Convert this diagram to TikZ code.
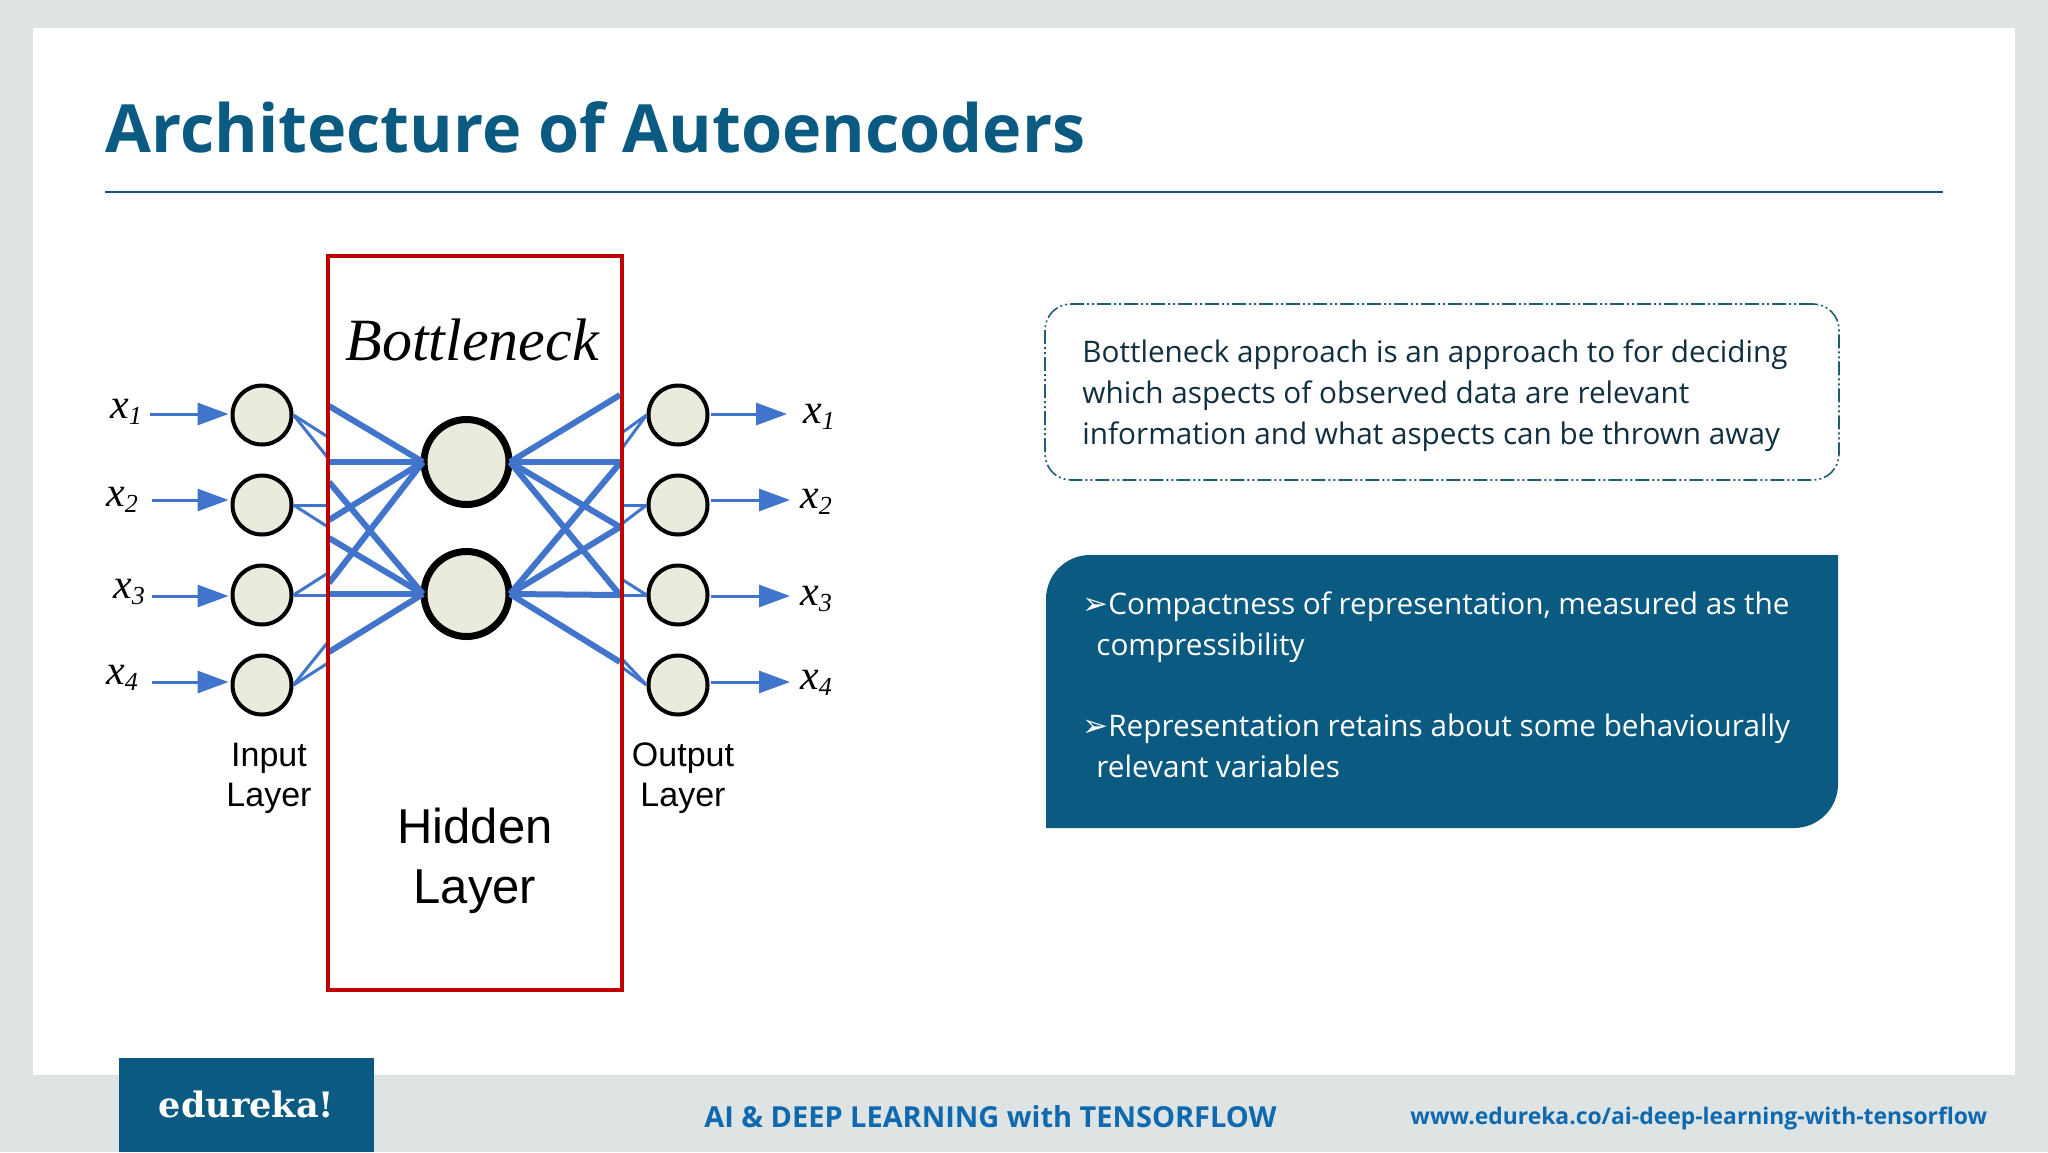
\documentclass[tikz,border=0pt]{standalone}
\usepackage{fontspec}
\usepackage{xcolor}
\usepackage{tikz}
\usetikzlibrary{arrows.meta,positioning}
\setmainfont{Open Sans}
\newfontfamily\arialfont{Liberation Sans}
\newfontfamily\timesfont{Liberation Serif}
\newfontfamily\slabfont{DejaVu Serif}
\newfontfamily\symfont{DejaVu Sans}
\definecolor{navy}{HTML}{0B5A82}
\definecolor{pale}{HTML}{DEE3E3}
\definecolor{wire}{HTML}{4174CB}
\definecolor{cream}{HTML}{EBEBDD}
\definecolor{inktext}{HTML}{10303F}
\definecolor{footblue}{HTML}{0F69AF}
\newcommand{\xlab}[1]{{\timesfont\itshape\fontsize{21}{21}\selectfont x\raisebox{-3pt}{\fontsize{13}{13}\selectfont #1}}}
\newcommand{\pfsize}{\fontsize{14.85}{20.5}\selectfont}

\begin{document}
\begin{tikzpicture}[x=0.5pt,y=-0.5pt,
  unit/.style={circle,draw=black,fill=cream,line width=2pt,minimum size=29.5pt,inner sep=0pt},
  neuron/.style={circle,draw=black,fill=cream,line width=3.5pt,minimum size=42.5pt,inner sep=0pt,outer sep=0.5pt},
  thinwire/.style={wire,line width=1.5pt},
  thickwire/.style={wire,line width=3pt},
  ar/.style={-{Triangle[length=15.5pt,width=11pt]},wire,line width=1.5pt},
  layerlab/.style={font=\arialfont\fontsize{17}{20}\selectfont,align=center},
  para/.style={font=\pfsize,align=left,anchor=north west,inner sep=0pt}]
  \useasboundingbox (0,0) rectangle (2048,1152);
  \fill[pale] (0,0) rectangle (2048,1152);
  \fill[white] (33,28) rectangle (2015,1075);
  % title
  \node[font=\bfseries\fontsize{33.25}{40}\selectfont,color=navy,anchor=base west,inner sep=0pt] (title) at (105,152) {Architecture of Autoencoders};
  \coordinate (ruleL) at (105,192);
  \coordinate (ruleR) at (1943,192);
  \draw[navy,line width=1pt] (ruleL) -- (ruleR);
  % units
  \node[unit] (i1) at (262,415) {};
  \node[unit,below=13.5pt of i1] (i2) {};
  \node[unit,below=13.5pt of i2] (i3) {};
  \node[unit,below=13.5pt of i3] (i4) {};
  \node[unit] (o1) at (678,415) {};
  \node[unit,below=13.5pt of o1] (o2) {};
  \node[unit,below=13.5pt of o2] (o3) {};
  \node[unit,below=13.5pt of o3] (o4) {};
  \node[neuron] (h1) at (466.5,462) {};
  \node[neuron] (h2) at (466.5,594) {};
  % cut ends at the red box
  \foreach \y [count=\k] in {437,458,505,527,573,595,642,663} \coordinate (lo\k) at (328,\y);
  \foreach \y [count=\k] in {406,462,520,583,482,538,594,652} \coordinate (li\k) at (329,\y);
  \foreach \y [count=\k] in {395,462,527,595,463,527,595,662} \coordinate (ri\k) at (620,\y);
  \foreach \y [count=\k] in {432,447,505,523,580,595,660,668} \coordinate (ro\k) at (623,\y);
  \foreach \a/\b in {i1/lo1,i1/lo2,i2/lo3,i2/lo4,i3/lo5,i3/lo6,i4/lo7,i4/lo8} \draw[thinwire] (\a.east) -- (\b);
  \foreach \a/\b in {o1/ro1,o1/ro2,o2/ro3,o2/ro4,o3/ro5,o3/ro6,o4/ro7,o4/ro8} \draw[thinwire] (\a.west) -- (\b);
  \foreach \a/\b in {li1/h1,li2/h1,li3/h1,li4/h1,li5/h2,li6/h2,li7/h2,li8/h2} \draw[thickwire] (\a) -- (\b.west);
  \foreach \a/\b in {ri1/h1,ri2/h1,ri3/h1,ri4/h1,ri5/h2,ri6/h2,ri7/h2,ri8/h2} \draw[thickwire] (\a) -- (\b.east);
  \node[draw={rgb,255:red,192;green,0;blue,0},line width=2pt,minimum width=147pt,minimum height=367pt,inner sep=0pt] (neck) at (475,623) {};
  \node[font=\timesfont\itshape\fontsize{30}{30}\selectfont] (btl) at (472,340) {Bottleneck};
  \node[font=\arialfont\fontsize{24.5}{30}\selectfont,align=center] (hid) at (475,861) {Hidden\\Layer};
  \node[layerlab] (inlab) at (269,778) {Input\\Layer};
  \node[layerlab] (outlab) at (683,778) {Output\\Layer};
  % inputs and outputs
  \foreach \n/\x/\y/\t in {1/126/412/1,2/122/500/2,3/129/592/3,4/122/678/4} \node (xi\n) at (\x,\y) {\xlab{\t}};
  \foreach \n/\x/\y/\t in {1/819/417/1,2/816/502/2,3/816/599/3,4/816/683/4} \node (xo\n) at (\x,\y) {\xlab{\t}};
  \foreach \n/\x/\y in {1/150/414,2/152/500,3/152/596,4/152/682} {
    \coordinate (ai\n) at (\x,\y);
    \draw[ar,shorten >=1pt] (ai\n) -- (ai\n -| i\n.west);
  }
  \foreach \n/\x/\y in {1/787/414,2/790/500,3/790/596,4/790/682} {
    \coordinate (ao\n) at (\x,\y);
    \draw[ar,shorten <=0.5pt] (ao\n -| o\n.east) -- (ao\n);
  }
  % right boxes
  \node[draw={rgb,255:red,31;green,95;blue,112},line width=0.8pt,dash pattern=on 7pt off 1.5pt on 1pt off 1.5pt on 1pt off 1.5pt,rounded corners=13pt,minimum width=397pt,minimum height=88pt,inner sep=0pt] (note) at (1442,392) {};
  \node[para,color=inktext] (notetxt) at (1082,339) {Bottleneck approach is an approach to for deciding\\which aspects of observed data are relevant\\information and what aspects can be thrown away};
  \node[minimum width=396pt,minimum height=136.5pt,inner sep=0pt,outer sep=0pt] (panel) at (1442,691.5) {};
  \fill[navy] (panel.west) [rounded corners=22pt] -- (panel.north west) [sharp corners] -- (panel.north east) -- (panel.east) [rounded corners=22pt] -- (panel.south east) [sharp corners] -- (panel.south west) -- cycle;
  \node[para,color=white] (ptxt1) at (1082,591) {{\symfont\fontsize{15.5}{20.5}\selectfont ➢}Compactness of representation, measured as the\\\hspace*{7pt}compressibility};
  \node[para,color=white] (ptxt2) at (1082,714) {{\symfont\fontsize{15.5}{20.5}\selectfont ➢}Representation retains about some behaviourally\\\hspace*{7pt}relevant variables};
  % footer
  \node[fill=navy,minimum width=127.5pt,minimum height=47pt,inner sep=0pt] (logo) at (246.5,1105) {};
  \node[font=\slabfont\bfseries\fontsize{17.5}{20}\selectfont,color=white] (logotxt) at (246.5,1104) {edureka!};
  \node[font=\bfseries\fontsize{14.47}{18}\selectfont,color=footblue,anchor=west,inner sep=0pt] (course) at (704,1117) {AI \& DEEP LEARNING with TENSORFLOW};
  \node[font=\bfseries\fontsize{11.44}{15}\selectfont,color=footblue,anchor=west,inner sep=0pt] (url) at (1410,1118) {www.edureka.co/ai-deep-learning-with-tensorflow};
\end{tikzpicture}
\end{document}
